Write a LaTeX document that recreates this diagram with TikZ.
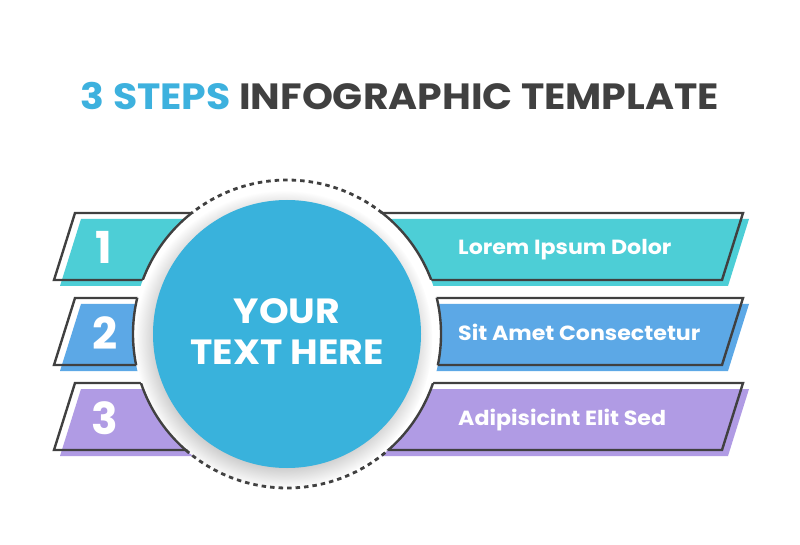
\documentclass[tikz,border=0pt]{standalone}
\usepackage{fontspec}
\setmainfont{Poppins}
\newfontfamily\widefont{Poppins}[FakeStretch=1.08]
\usepackage{tikz}
\usetikzlibrary{shadows}
\definecolor{TitleBlue}{HTML}{3DB1DE}
\definecolor{InkGray}{HTML}{404040}
\definecolor{StepTeal}{HTML}{4DCED6}
\definecolor{StepBlue}{HTML}{5CA8E6}
\definecolor{StepPurple}{HTML}{B09BE4}
\definecolor{DiscBlue}{HTML}{39B2DC}

\begin{document}
\begin{tikzpicture}[
  x=1pt,y=1pt,
  outline/.style={draw=InkGray,line width=2.4pt},
  ring/.style={draw=InkGray,line width=2.8pt,dash pattern=on 4.5pt off 4pt},
  num/.style={text=white,font=\fontsize{44}{44}\selectfont\bfseries,anchor=base},
  steptext/.style={text=white,font=\widefont\fontsize{20.5}{21}\selectfont\bfseries,anchor=base west,inner sep=0pt},
  disc/.style={fill=DiscBlue,circular drop shadow={shadow xshift=-3pt,shadow yshift=-5pt,shadow scale=1.11,opacity=.4}}
]
\useasboundingbox[fill=white] (0,0) rectangle (800,544);
\coordinate (c) at (287,210);
\node[font=\widefont\fontsize{36.5}{37}\selectfont\bfseries,text=InkGray,anchor=base] (title) at (400,434) {\textcolor{TitleBlue}{3 STEPS} INFOGRAPHIC TEMPLATE};

% bands, cut by the ring
\begin{scope}[even odd rule]
\clip (0,0) rectangle (800,544) (c) circle[radius=154];
\fill[StepTeal] (81,325) -- (749,325) -- (728,258) -- (60,258) -- cycle;
\draw[outline] (75,331) -- (743,331) -- (722,264) -- (54,264) -- cycle;
\fill[StepBlue] (81,240) -- (749,240) -- (728,173) -- (60,173) -- cycle;
\draw[outline] (75,246) -- (743,246) -- (722,179) -- (54,179) -- cycle;
\fill[StepPurple] (81,155) -- (749,155) -- (728,88) -- (60,88) -- cycle;
\draw[outline] (75,161) -- (743,161) -- (722,94) -- (54,94) -- cycle;
\end{scope}
% ring inside each band
\begin{scope}
\clip (75,331) -- (743,331) -- (722,264) -- (54,264) -- cycle;
\draw[outline] (c) circle[radius=154];
\end{scope}
\begin{scope}
\clip (75,246) -- (743,246) -- (722,179) -- (54,179) -- cycle;
\draw[outline] (c) circle[radius=154];
\end{scope}
\begin{scope}
\clip (75,161) -- (743,161) -- (722,94) -- (54,94) -- cycle;
\draw[outline] (c) circle[radius=154];
\end{scope}
% dotted ring above and below
\draw[ring] (c) ++(51.8:154) arc[start angle=51.8,end angle=128.2,radius=154];
\draw[ring] (c) ++(-131.1:154) arc[start angle=-131.1,end angle=-48.9,radius=154];

\fill[disc] (c) circle[radius=134];
\node[align=center,text=white,font=\widefont\fontsize{35}{41}\selectfont\bfseries] (middle) at (287,212) {YOUR\\TEXT HERE};

\node[num] (n1) at (104,280) {1};
\node[num] (n2) at (105,195) {2};
\node[num] (n3) at (105,110) {3};
\node[steptext] (s1) at (458,289) {Lorem Ipsum Dolor};
\node[steptext] (s2) at (458,204) {Sit Amet Consectetur};
\node[steptext] (s3) at (458,119) {Adipisicint Elit Sed};
\end{tikzpicture}
\end{document}
